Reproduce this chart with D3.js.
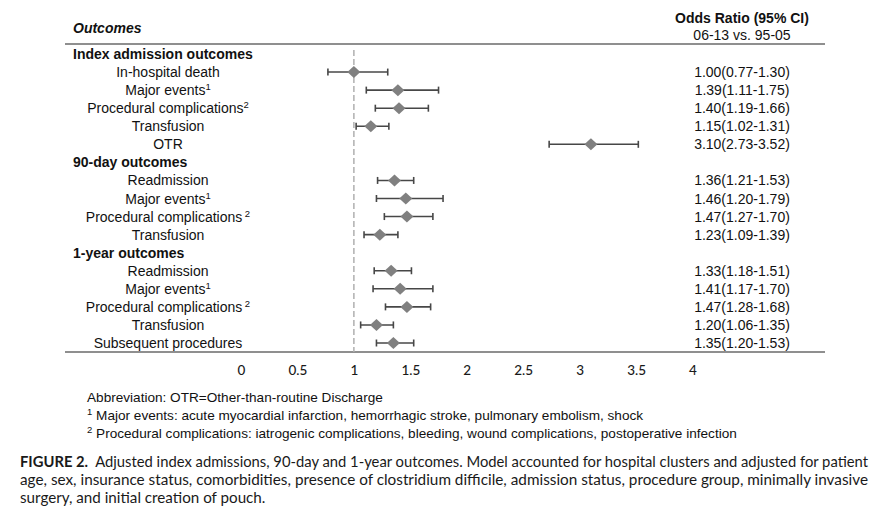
<!DOCTYPE html>
<html>
<head>
<meta charset="utf-8">
<script src="https://cdn.jsdelivr.net/npm/d3@7"></script>
<style>
  html, body { margin: 0; padding: 0; background: #fff; }
  svg { display: block; }
</style>
</head>
<body>
<svg id="chart" width="890" height="513"></svg>
<script>
// ---- Data ----
const rowLabels = ["Index admission outcomes", "In-hospital death", "Major events", "Procedural complications", "Transfusion", "OTR",
  "90-day outcomes", "Readmission", "Major events", "Procedural complications", "Transfusion",
  "1-year outcomes", "Readmission", "Major events", "Procedural complications", "Transfusion", "Subsequent procedures"];
const isHeader = [1, 0, 0, 0, 0, 0, 1, 0, 0, 0, 0, 1, 0, 0, 0, 0, 0];
const superscripts = ["", "", "1", "2", "", "", "", "", "1", " 2", "", "", "", "1", " 2", "", ""];
const oddsRatio = [null, 1.00, 1.39, 1.40, 1.15, 3.10, null, 1.36, 1.46, 1.47, 1.23, null, 1.33, 1.41, 1.47, 1.20, 1.35];
const ciLower   = [null, 0.77, 1.11, 1.19, 1.02, 2.73, null, 1.21, 1.20, 1.27, 1.09, null, 1.18, 1.17, 1.28, 1.06, 1.20];
const ciUpper   = [null, 1.30, 1.75, 1.66, 1.31, 3.52, null, 1.53, 1.79, 1.70, 1.39, null, 1.51, 1.70, 1.68, 1.35, 1.53];
const xTicks = [0, 0.5, 1, 1.5, 2, 2.5, 3, 3.5, 4];
const referenceValue = 1;

const footnotes = [
  {sup: "", text: "Abbreviation: OTR=Other-than-routine Discharge"},
  {sup: "1", text: " Major events: acute myocardial infarction, hemorrhagic stroke, pulmonary embolism, shock"},
  {sup: "2", text: " Procedural complications: iatrogenic complications, bleeding, wound complications, postoperative infection"}
];
const captionBold = "FIGURE 2.";
const captionLines = [
  "  Adjusted index admissions, 90-day and 1-year outcomes. Model accounted for hospital clusters and adjusted for patient",
  "age, sex, insurance status, comorbidities, presence of clostridium difficile, admission status, procedure group, minimally invasive",
  "surgery, and initial creation of pouch."
];

// ---- Drawing ----
const svg = d3.select("#chart");
const font = "'Liberation Sans', Arial, sans-serif";
const capFont = "Lato, 'Open Sans', sans-serif";

const x = d3.scaleLinear().domain([0, 4]).range([241, 692.5]);
const y = d3.scalePoint().domain(d3.range(rowLabels.length)).range([54, 343]);
const fmt = d3.format(".2f");

// header texts
svg.append("text").attr("x", 73).attr("y", 33)
  .attr("font-family", font).attr("font-size", 14).attr("font-weight", "bold").attr("font-style", "italic")
  .attr("fill", "#111").text("Outcomes");
svg.append("text").attr("x", 742).attr("y", 23).attr("text-anchor", "middle")
  .attr("font-family", font).attr("font-size", 14).attr("font-weight", "bold")
  .attr("fill", "#111").text("Odds Ratio (95% CI)");
svg.append("text").attr("x", 742).attr("y", 40).attr("text-anchor", "middle")
  .attr("font-family", font).attr("font-size", 14)
  .attr("fill", "#111").text("06-13 vs. 95-05");

// rules
[44, 352].forEach(yy => {
  svg.append("line").attr("x1", 65).attr("x2", 825).attr("y1", yy).attr("y2", yy)
    .attr("stroke", "#6a6a6a").attr("stroke-width", 1.5);
});

// reference dashed line
svg.append("line").attr("x1", x(referenceValue)).attr("x2", x(referenceValue))
  .attr("y1", 50).attr("y2", 352)
  .attr("stroke", "#b0b0b0").attr("stroke-width", 1.5).attr("stroke-dasharray", "6,3");

// row labels
const rows = rowLabels.map((label, i) => ({i, label, header: isHeader[i], sup: superscripts[i],
  or: oddsRatio[i], lo: ciLower[i], hi: ciUpper[i]}));

rows.forEach(r => {
  const t = svg.append("text")
    .attr("y", y(r.i) + 5)
    .attr("font-family", font).attr("font-size", 14).attr("fill", "#111");
  if (r.header) {
    t.attr("x", 73).attr("font-weight", "bold").text(r.label);
  } else {
    t.attr("x", 168).attr("text-anchor", "middle");
    t.append("tspan").text(r.label);
    if (r.sup) {
      t.append("tspan").attr("font-size", 9.5).attr("dy", -5).text(r.sup);
    }
  }
});

// CI text column
const dataRows = rows.filter(r => r.or !== null);
svg.append("g").selectAll("text").data(dataRows).join("text")
  .attr("x", 742).attr("y", d => y(d.i) + 5).attr("text-anchor", "middle")
  .attr("font-family", font).attr("font-size", 14).attr("fill", "#111")
  .text(d => `${fmt(d.or)}(${fmt(d.lo)}-${fmt(d.hi)})`);

// error bars
const marks = svg.append("g");
const barColor = "#474747";
marks.selectAll("line.ci").data(dataRows).join("line").attr("class", "ci")
  .attr("x1", d => x(d.lo)).attr("x2", d => x(d.hi))
  .attr("y1", d => y(d.i)).attr("y2", d => y(d.i))
  .attr("stroke", barColor).attr("stroke-width", 1.6);
marks.selectAll("line.capl").data(dataRows).join("line").attr("class", "capl")
  .attr("x1", d => x(d.lo)).attr("x2", d => x(d.lo))
  .attr("y1", d => y(d.i) - 3.5).attr("y2", d => y(d.i) + 3.5)
  .attr("stroke", barColor).attr("stroke-width", 1.6);
marks.selectAll("line.caph").data(dataRows).join("line").attr("class", "caph")
  .attr("x1", d => x(d.hi)).attr("x2", d => x(d.hi))
  .attr("y1", d => y(d.i) - 3.5).attr("y2", d => y(d.i) + 3.5)
  .attr("stroke", barColor).attr("stroke-width", 1.6);
const hw = 6.5, hh = 6;
marks.selectAll("path.pt").data(dataRows).join("path").attr("class", "pt")
  .attr("d", d => {
    const cx = x(d.or), cy = y(d.i);
    return `M${cx - hw},${cy}L${cx},${cy - hh}L${cx + hw},${cy}L${cx},${cy + hh}Z`;
  })
  .attr("fill", "#808080");

// x axis (tick labels only)
const axis = svg.append("g").attr("transform", "translate(0,365)")
  .call(d3.axisBottom(x).tickValues(xTicks).tickSize(0).tickPadding(0).tickFormat(d => String(d)));
axis.select(".domain").remove();
axis.selectAll("text").attr("font-family", capFont).attr("font-size", 13.5).attr("fill", "#1a1a1a")
  .attr("font-weight", 500).attr("dy", "0.71em");

// footnotes
footnotes.forEach((f, k) => {
  const t = svg.append("text").attr("x", 87).attr("y", 402 + k * 18)
    .attr("font-family", font).attr("font-size", 13.6).attr("fill", "#111");
  if (f.sup) {
    t.append("tspan").attr("font-size", 9.5).attr("dy", -5).text(f.sup);
    t.append("tspan").attr("dy", 5).text(f.text);
  } else {
    t.append("tspan").text(f.text);
  }
});

// caption
const capWidths = [848, 848, null];
captionLines.forEach((line, k) => {
  const t = svg.append("text").attr("x", 20).attr("y", 467 + k * 18)
    .attr("font-family", capFont).attr("font-size", 15.2).attr("fill", "#1a1a1a")
    .attr("xml:space", "preserve").style("white-space", "pre");
  if (k === 0) {
    t.append("tspan").attr("font-weight", "bold").text(captionBold);
  }
  t.append("tspan").text(line);
  if (capWidths[k]) {
    t.attr("textLength", capWidths[k]).attr("lengthAdjust", "spacingAndGlyphs");
  }
});
</script>
</body>
</html>
